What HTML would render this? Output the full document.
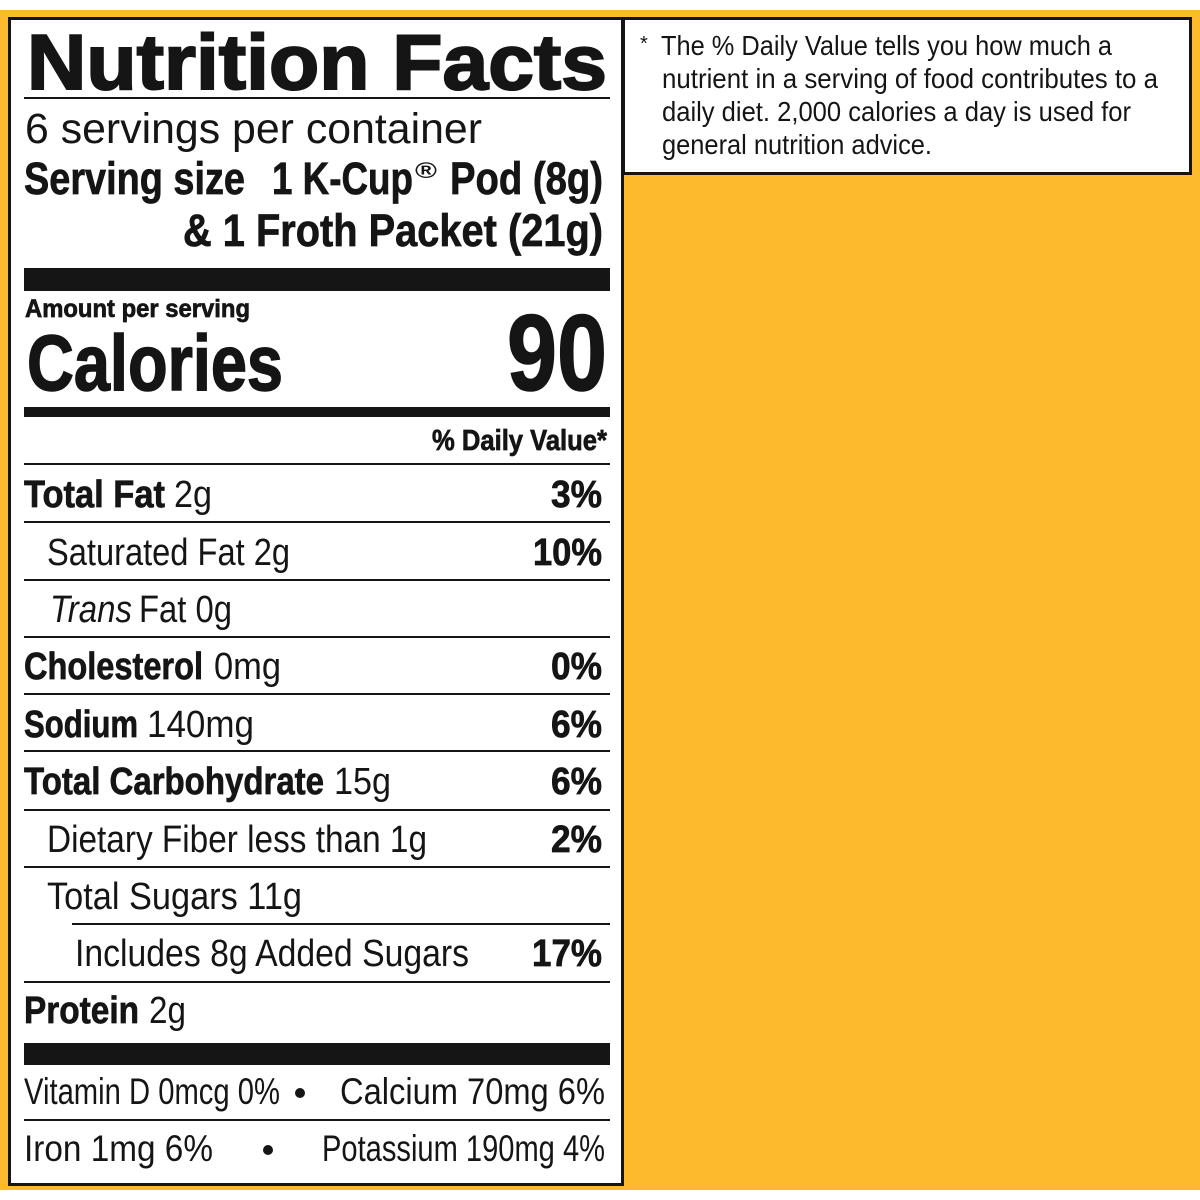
<!DOCTYPE html>
<html><head><meta charset="utf-8"><style>
html,body{margin:0;padding:0;background:#fff;}
svg{display:block;}
text{font-family:"Liberation Sans","DejaVu Sans",sans-serif;fill:#151515;}
.b{font-weight:bold;}
.bs{font-weight:bold;stroke:#151515;stroke-width:0.7;}
</style></head><body>
<svg width="1200" height="1200" viewBox="0 0 1200 1200" xmlns="http://www.w3.org/2000/svg">
<rect x="0" y="0" width="1200" height="1200" fill="#ffffff"/>
<rect x="0" y="10" width="1200" height="1180" fill="#FCBA2C"/>
<rect x="9.5" y="18.5" width="613" height="1166" fill="#ffffff" stroke="#151515" stroke-width="3"/>
<rect x="623.5" y="18.5" width="567" height="155" fill="#ffffff" stroke="#151515" stroke-width="3"/>

<!-- lines -->
<g fill="#151515">
<rect x="24" y="97" width="586" height="2"/>
<rect x="24" y="268" width="586" height="23"/>
<rect x="24" y="407" width="586" height="10"/>
<rect x="24" y="463" width="586" height="2"/>
<rect x="24" y="521" width="586" height="2"/>
<rect x="24" y="579" width="586" height="2"/>
<rect x="24" y="636" width="586" height="2"/>
<rect x="24" y="693" width="586" height="2"/>
<rect x="24" y="750" width="586" height="2"/>
<rect x="24" y="809" width="586" height="2"/>
<rect x="24" y="866" width="586" height="2"/>
<rect x="72" y="923" width="538" height="2"/>
<rect x="24" y="981" width="586" height="2"/>
<rect x="24" y="1043" width="586" height="22"/>
<rect x="24" y="1119" width="586" height="2"/>
</g>

<!-- header -->
<text class="b" x="27" y="89" font-size="78" textLength="580" lengthAdjust="spacingAndGlyphs" stroke="#151515" stroke-width="2">Nutrition Facts</text>
<text x="25" y="143" font-size="43" textLength="457" lengthAdjust="spacingAndGlyphs">6 servings per container</text>
<text class="bs" x="24" y="194" font-size="45" textLength="221" lengthAdjust="spacingAndGlyphs">Serving size</text>
<text class="bs" x="272" y="194" font-size="45" textLength="141" lengthAdjust="spacingAndGlyphs">1 K-Cup</text>
<text class="b" x="415" y="178" font-size="22" textLength="22" lengthAdjust="spacingAndGlyphs">®</text>
<text class="bs" x="450" y="194" font-size="45" textLength="153" lengthAdjust="spacingAndGlyphs">Pod (8g)</text>
<text class="bs" x="183" y="246" font-size="45" textLength="420" lengthAdjust="spacingAndGlyphs">&amp; 1 Froth Packet (21g)</text>

<text class="bs" x="25" y="317" font-size="25" textLength="225" lengthAdjust="spacingAndGlyphs">Amount per serving</text>
<text class="b" x="27" y="390" font-size="79" textLength="256" lengthAdjust="spacingAndGlyphs" stroke="#151515" stroke-width="1.5">Calories</text>
<text class="b" x="507" y="390" font-size="108" textLength="100" lengthAdjust="spacingAndGlyphs" stroke="#151515" stroke-width="1.5">90</text>

<text class="bs" x="432" y="450" font-size="29" textLength="175" lengthAdjust="spacingAndGlyphs">% Daily Value*</text>

<!-- rows -->
<text class="bs" x="24" y="507" font-size="38" textLength="141" lengthAdjust="spacingAndGlyphs">Total Fat</text>
<text x="174" y="507" font-size="38" textLength="38" lengthAdjust="spacingAndGlyphs">2g</text>
<text class="bs" x="551" y="507" font-size="38" textLength="51" lengthAdjust="spacingAndGlyphs">3%</text>

<text x="47" y="565" font-size="38" textLength="243" lengthAdjust="spacingAndGlyphs">Saturated Fat 2g</text>
<text class="bs" x="533" y="565" font-size="38" textLength="69" lengthAdjust="spacingAndGlyphs">10%</text>

<text x="50" y="622" font-size="38" font-style="italic" textLength="82" lengthAdjust="spacingAndGlyphs">Trans</text>
<text x="139" y="622" font-size="38" textLength="93" lengthAdjust="spacingAndGlyphs">Fat 0g</text>

<text class="bs" x="24" y="679" font-size="38" textLength="179" lengthAdjust="spacingAndGlyphs">Cholesterol</text>
<text x="214" y="679" font-size="38" textLength="67" lengthAdjust="spacingAndGlyphs">0mg</text>
<text class="bs" x="551" y="679" font-size="38" textLength="51" lengthAdjust="spacingAndGlyphs">0%</text>

<text class="bs" x="24" y="737" font-size="38" textLength="114" lengthAdjust="spacingAndGlyphs">Sodium</text>
<text x="147" y="737" font-size="38" textLength="107" lengthAdjust="spacingAndGlyphs">140mg</text>
<text class="bs" x="551" y="737" font-size="38" textLength="51" lengthAdjust="spacingAndGlyphs">6%</text>

<text class="bs" x="24" y="794" font-size="38" textLength="300" lengthAdjust="spacingAndGlyphs">Total Carbohydrate</text>
<text x="334" y="794" font-size="38" textLength="57" lengthAdjust="spacingAndGlyphs">15g</text>
<text class="bs" x="551" y="794" font-size="38" textLength="51" lengthAdjust="spacingAndGlyphs">6%</text>

<text x="47" y="852" font-size="38" textLength="380" lengthAdjust="spacingAndGlyphs">Dietary Fiber less than 1g</text>
<text class="bs" x="551" y="852" font-size="38" textLength="51" lengthAdjust="spacingAndGlyphs">2%</text>

<text x="47" y="909" font-size="38" textLength="255" lengthAdjust="spacingAndGlyphs">Total Sugars 11g</text>

<text x="75" y="966" font-size="38" textLength="394" lengthAdjust="spacingAndGlyphs">Includes 8g Added Sugars</text>
<text class="bs" x="532" y="966" font-size="38" textLength="70" lengthAdjust="spacingAndGlyphs">17%</text>

<text class="bs" x="24" y="1023" font-size="38" textLength="115" lengthAdjust="spacingAndGlyphs">Protein</text>
<text x="149" y="1023" font-size="38" textLength="37" lengthAdjust="spacingAndGlyphs">2g</text>

<text x="24" y="1104" font-size="37" textLength="256" lengthAdjust="spacingAndGlyphs">Vitamin D 0mcg 0%</text>
<circle cx="300" cy="1093" r="5" fill="#151515"/>
<text x="340" y="1104" font-size="37" textLength="265" lengthAdjust="spacingAndGlyphs">Calcium 70mg 6%</text>

<text x="24" y="1161" font-size="37" textLength="189" lengthAdjust="spacingAndGlyphs">Iron 1mg 6%</text>
<circle cx="268" cy="1150" r="5" fill="#151515"/>
<text x="322" y="1161" font-size="37" textLength="283" lengthAdjust="spacingAndGlyphs">Potassium 190mg 4%</text>

<!-- footnote box -->
<text x="640" y="50" font-size="20">*</text>
<text x="661" y="55" font-size="28" textLength="451" lengthAdjust="spacingAndGlyphs">The % Daily Value tells you how much a</text>
<text x="662" y="88" font-size="28" textLength="496" lengthAdjust="spacingAndGlyphs">nutrient in a serving of food contributes to a</text>
<text x="662" y="121" font-size="28" textLength="469" lengthAdjust="spacingAndGlyphs">daily diet. 2,000 calories a day is used for</text>
<text x="662" y="154" font-size="28" textLength="270" lengthAdjust="spacingAndGlyphs">general nutrition advice.</text>
</svg>
</body></html>
